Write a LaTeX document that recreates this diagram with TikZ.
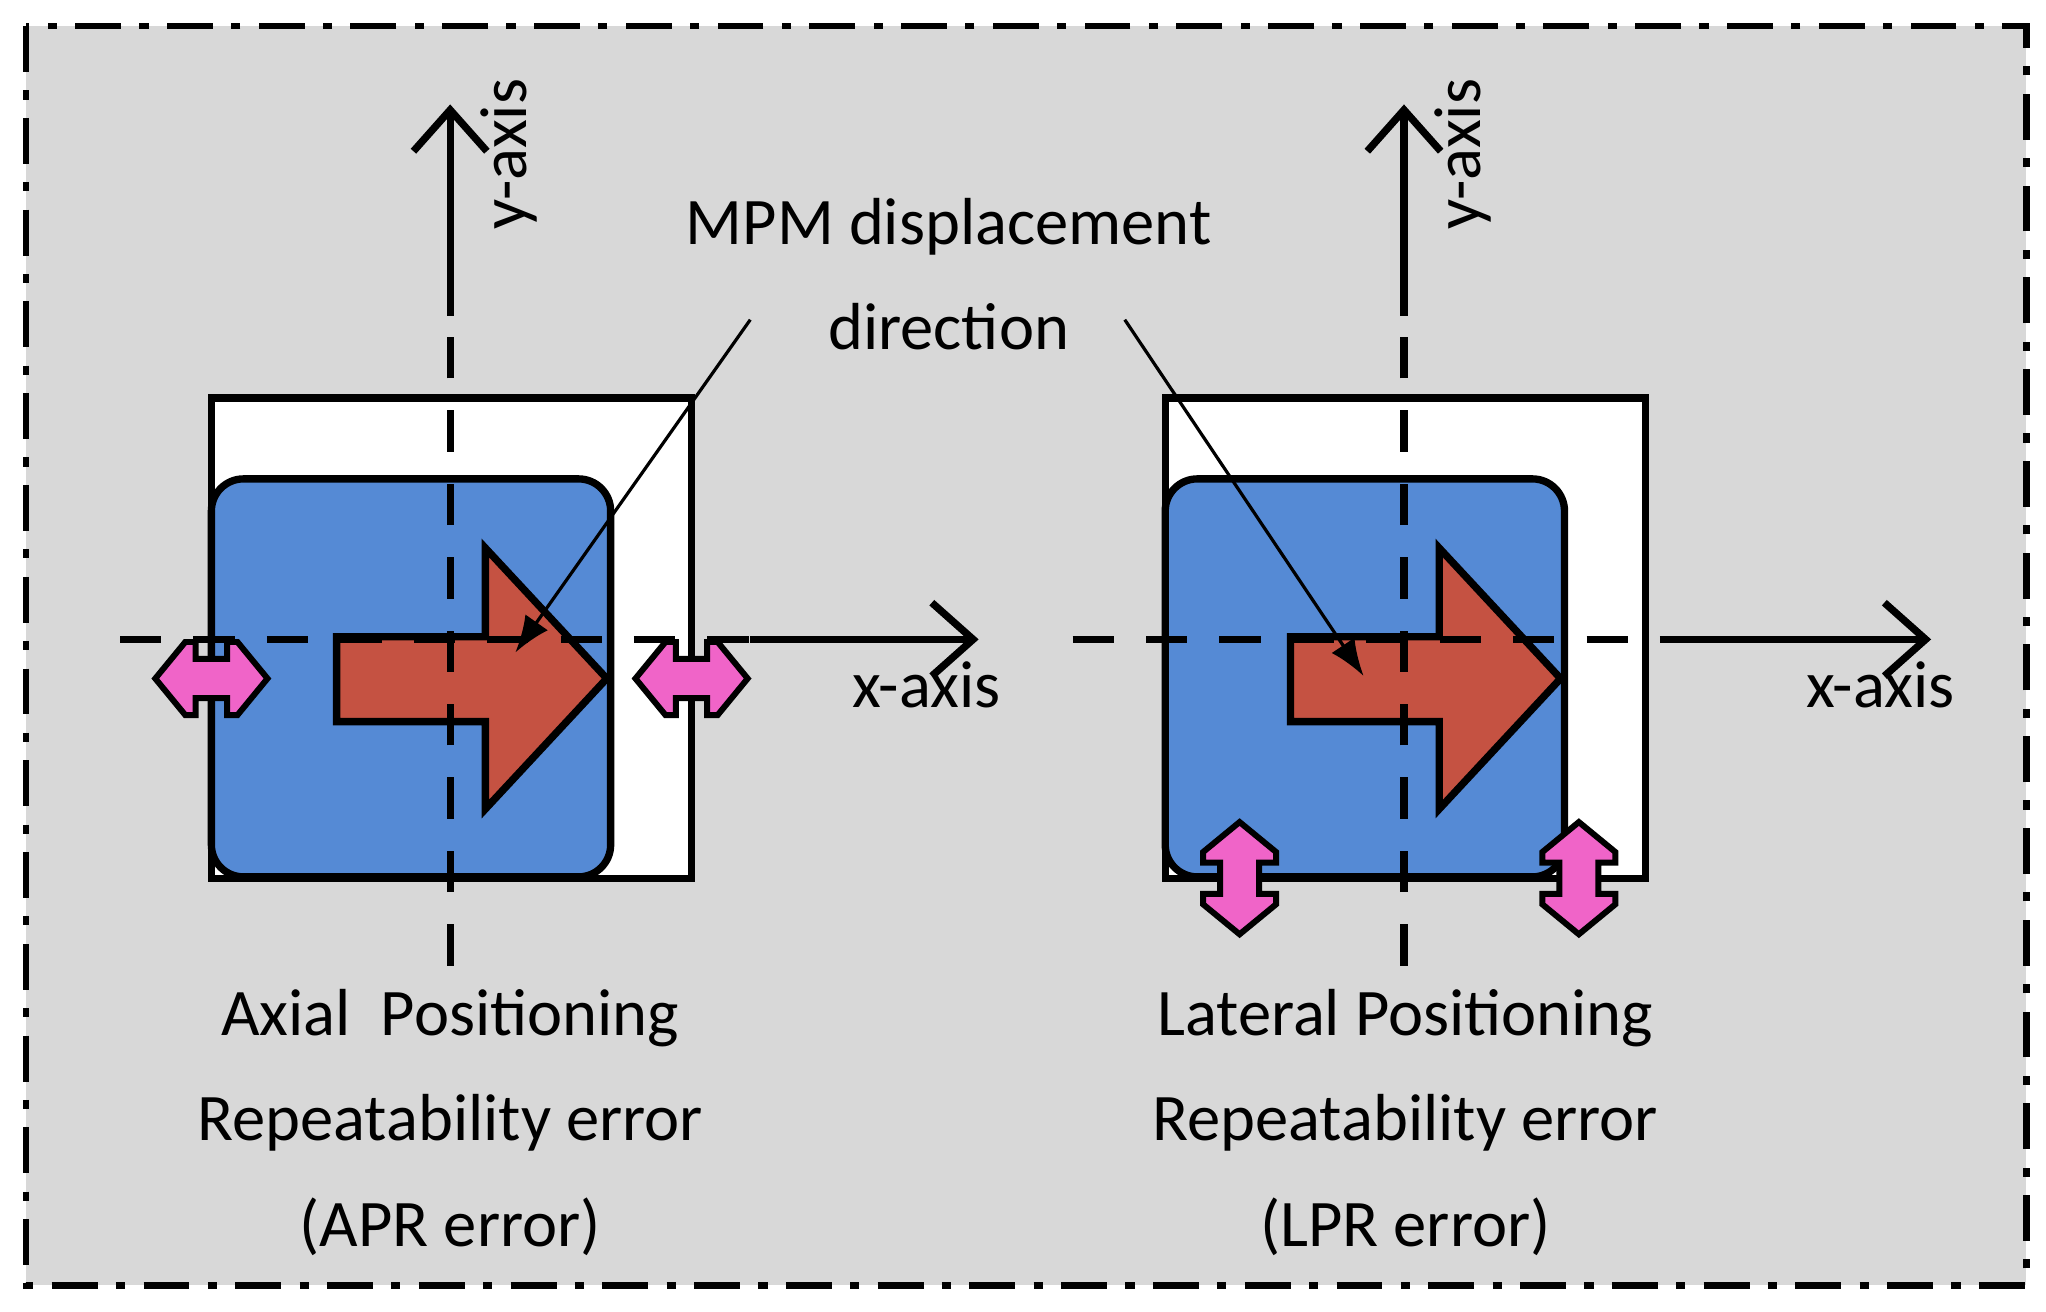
\documentclass[tikz,border=0pt]{standalone}
\usepackage{fontspec}
\setmainfont{Carlito}
\usetikzlibrary{arrows.meta}
\definecolor{bg}{RGB}{216,216,216}
\definecolor{bl}{RGB}{85,138,213}
\definecolor{rd}{RGB}{197,82,66}
\definecolor{pk}{RGB}{240,100,200}
\begin{document}
\begin{tikzpicture}[x=0.01cm,y=-0.01cm,
  txt/.style={font=\fontsize{14.5}{23}\selectfont,align=center},
  ax/.style={line width=1.6pt,-{Straight Barb[length=9pt,width=16pt,line width=1.6pt]}},
  dsh/.style={line width=1.6pt,dash pattern=on 9pt off 7pt},
  box/.style={draw,line width=1.6pt},
  pink/.style={draw,fill=pk,line width=1.3pt,line join=miter},
  lead/.style={line width=0.7pt,-{Latex[length=8pt,width=6pt]}}]
\useasboundingbox (0,0) rectangle (1568,1005);
\draw[fill=bg,line width=1.4pt,dash pattern=on 10pt off 4pt on 2pt off 4pt] (20,20) rectangle (1553,985);
\foreach \ox/\nm in {0/L,731/R}{
\begin{scope}[xshift=\ox*0.01cm]
\draw[box,fill=white] (162,305) rectangle (530,673);
\draw[box,fill=bl,rounded corners=7pt] (162,367) rectangle (468,672);
\draw[box,fill=rd,line join=miter] (258,488) -- (372,488) -- (372,420) -- (465,520) -- (372,620) -- (372,553) -- (258,553) -- cycle;
\draw[dsh] (345,740) -- (345,240);
\draw[ax] (345,242) -- (345,80);
\node[txt,rotate=90] at (390,118) {y-axis};
\node[txt] at (710,525) {x-axis};
\end{scope}}
\coordinate (y1) at (345,80);
\draw[dsh] (92,490) -- (580,490);
\draw[ax] (575,490) -- (750,490);
\draw[dsh] (822,490) -- (1300,490);
\draw[ax] (1300,490) -- (1480,490);
% pink horizontal
\foreach \cx in {162,530}{
\draw[pink] (\cx-43,520) -- (\cx-20,492) -- (\cx-12,492) -- (\cx-12,505) -- (\cx+12,505) -- (\cx+12,492) -- (\cx+20,492) -- (\cx+43,520) -- (\cx+20,548) -- (\cx+12,548) -- (\cx+12,535) -- (\cx-12,535) -- (\cx-12,548) -- (\cx-20,548) -- cycle;}
\foreach \cx in {950,1210}{
\draw[pink] (\cx,630) -- (\cx+28,653) -- (\cx+28,661) -- (\cx+15,661) -- (\cx+15,685) -- (\cx+28,685) -- (\cx+28,693) -- (\cx,716) -- (\cx-28,693) -- (\cx-28,685) -- (\cx-15,685) -- (\cx-15,661) -- (\cx-28,661) -- (\cx-28,653) -- cycle;}
\node[txt] (mpm) at (727,210) {MPM displacement\\direction};
\coordinate (a1) at (575,245);
\coordinate (a2) at (862,245);
\coordinate (t1) at (395,500);
\coordinate (t2) at (1045,518);
\draw[lead] (a1) -- (t1);
\draw[lead] (a2) -- (t2);
\node[txt] (c1) at (345,860) {Axial\ \ Positioning\\Repeatability error\\(APR error)};
\node[txt] (c2) at (1077,860) {Lateral Positioning\\Repeatability error\\(LPR error)};
\end{tikzpicture}
\end{document}
